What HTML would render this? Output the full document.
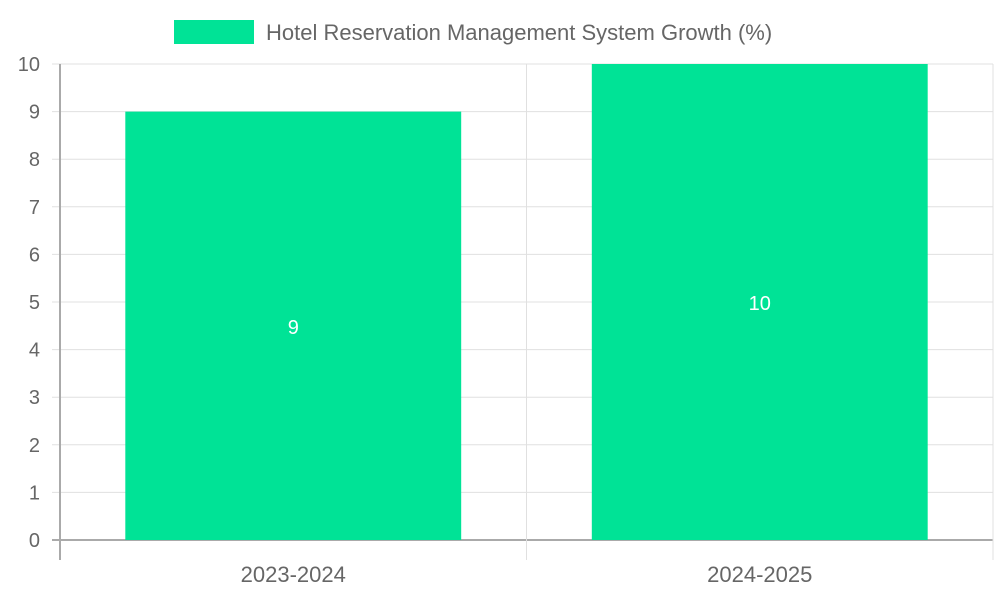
<!DOCTYPE html>
<html><head><meta charset="utf-8"><style>
body{margin:0;background:#fff;font-family:"Liberation Sans",sans-serif}
</style></head><body>
<svg id="c" width="1000" height="600"></svg>
<script>
const categories=["2023-2024","2024-2025"];
const values=[9,10];
const yTicks=[0,1,2,3,4,5,6,7,8,9,10];
const NS="http://www.w3.org/2000/svg";
const svg=document.getElementById('c');
const L=60,R=993,T=64,B=540,yMax=10;
const y=v=>B-(B-T)*v/yMax;
const band=(R-L)/categories.length;
const x=i=>L+band*i;
function el(t,a,txt){const e=document.createElementNS(NS,t);for(const k in a)e.setAttribute(k,a[k]);if(txt!=null)e.textContent=txt;svg.appendChild(e);return e;}
yTicks.forEach(v=>{
 const g=el('line',{x1:52,x2:R,y1:y(v),y2:y(v),stroke:v===0?'#aaa':'#e0e0e0','stroke-width':v===0?2:1});
 
 
 const t=el('text',{x:40,y:y(v)+7,'text-anchor':'end','font-size':20,fill:'#666'},v);
 
 
});
for(let i=0;i<=categories.length;i++){
 const g=el('line',{x1:x(i),x2:x(i),y1:T,y2:560,stroke:i===0?'#aaa':'#e0e0e0','stroke-width':i===0?2:1});
 
 
}
categories.forEach((c,i)=>{
 const w=band*0.72,bx=x(i)+(band-w)/2;
 const r=el('rect',{x:bx,y:y(values[i]),width:w,height:B-y(values[i]),fill:'#00e396'});
 
 
 const vt=el('text',{x:bx+w/2,y:(y(values[i])+B)/2+8,'text-anchor':'middle','font-size':20,fill:'#fff'},values[i]);
 
 
 const t=el('text',{x:x(i)+band/2,y:582,'text-anchor':'middle','font-size':22,fill:'#666'},c);
 
 
});
const lb=el('rect',{x:174,y:20,width:80,height:24,fill:'#00e396'});


const lt=el('text',{x:266,y:40,'font-size':22,fill:'#666'},'Hotel Reservation Management System Growth (%)');


</script>
</body></html>
